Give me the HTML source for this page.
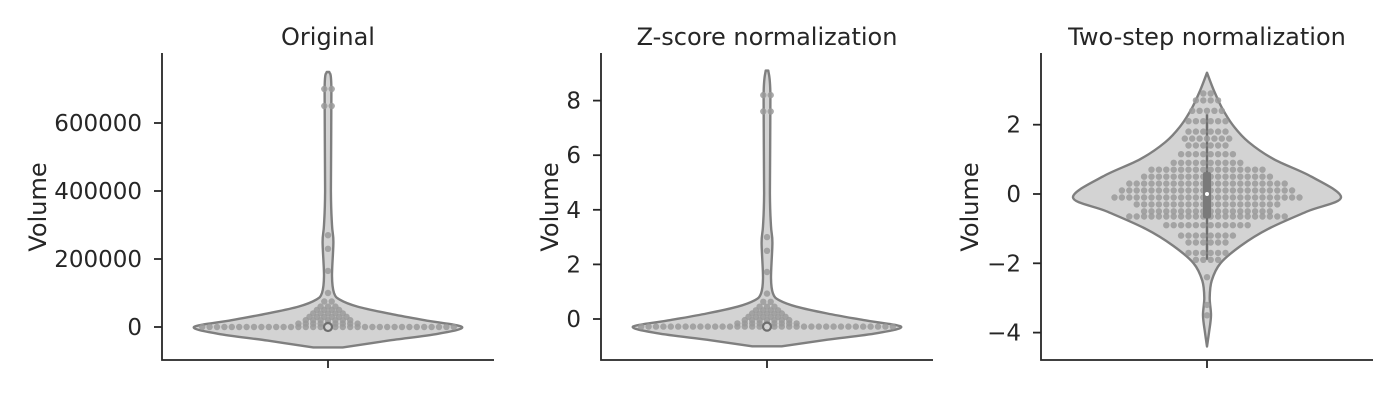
<!DOCTYPE html>
<html><head><meta charset="utf-8">
<style>
html,body{margin:0;padding:0;background:#fff;}
svg{display:block;font-family:"DejaVu Sans","Liberation Sans",sans-serif;}
</style></head>
<body>
<svg id="chart" width="1400" height="400" viewBox="0 0 1400 400"></svg>
<script>
// ---- Panel 1 data (Original) ----
const p1Ticks = [0, 200000, 400000, 600000];
const p1TickLabels = ["0", "200000", "400000", "600000"];
const p1ProfileVals = [750000, 700000, 400000, 300000, 250000, 150000, 100000, 80000, 60000, 40000, 20000, 0, -20000, -40000, -60000];
const p1ProfileW = [0.01, 0.025, 0.022, 0.03, 0.04, 0.03, 0.045, 0.09, 0.22, 0.45, 0.72, 1.0, 0.82, 0.45, 0.11];
const p1RowVals = [0, 10000, 20000, 30000, 40000, 50000, 60000, 75000, 100000, 165000, 230000, 270000, 650000, 700000];
const p1RowCounts = [35, 9, 7, 6, 5, 4, 3, 2, 1, 1, 1, 1, 2, 2];
// ---- Panel 2 data (Z-score) ----
const p2Ticks = [0, 2, 4, 6, 8];
const p2TickLabels = ["0", "2", "4", "6", "8"];
const p2ProfileVals = [9.1, 8.2, 4.6, 3.4, 2.8, 1.5, 0.93, 0.69, 0.45, 0.2, -0.04, -0.28, -0.52, -0.76, -1.0];
const p2ProfileW = [0.01, 0.025, 0.022, 0.03, 0.04, 0.03, 0.045, 0.09, 0.22, 0.45, 0.72, 1.0, 0.82, 0.45, 0.11];
const p2RowVals = [-0.28, -0.16, -0.04, 0.08, 0.2, 0.32, 0.45, 0.63, 0.93, 1.72, 2.5, 3.0, 7.6, 8.2];
const p2RowCounts = [35, 9, 7, 6, 5, 4, 3, 2, 1, 1, 1, 1, 2, 2];
// ---- Panel 3 data (Two-step) ----
const p3Ticks = [-4, -2, 0, 2];
const p3TickLabels = ["\u22124", "\u22122", "0", "2"];
const p3ProfileVals = [3.5, 3.0, 2.5, 2.0, 1.5, 1.0, 0.5, -0.1, -0.5, -1.0, -1.5, -2.0, -2.5, -3.0, -3.5, -4.0, -4.4];
const p3ProfileW = [0.0, 0.05, 0.11, 0.19, 0.31, 0.5, 0.78, 1.0, 0.75, 0.46, 0.25, 0.1, 0.035, 0.02, 0.03, 0.015, 0.0];
const p3RowVals = [2.9, 2.7, 2.4, 2.1, 1.8, 1.6, 1.4, 1.15, 0.9, 0.7, 0.5, 0.3, 0.1, -0.1, -0.3, -0.5, -0.65, -0.9, -1.2, -1.4, -1.7, -1.9, -2.4, -3.2, -3.5];
const p3RowCounts = [2, 4, 5, 6, 6, 7, 6, 8, 10, 16, 18, 22, 24, 26, 20, 18, 22, 12, 8, 6, 6, 4, 1, 1, 1];
const p3Box = [-0.7, 0.63];
const p3Whisk = [-1.9, 2.3];
const p3Median = 0;

const NS = "http://www.w3.org/2000/svg";
const svg = document.getElementById("chart");
function mk(tag, attrs, parent) {
  const e = document.createElementNS(NS, tag);
  for (const k in attrs) e.setAttribute(k, attrs[k]);
  (parent || svg).appendChild(e);
  return e;
}
function smooth(pts) {
  let d = "M" + pts[0][0].toFixed(1) + "," + pts[0][1].toFixed(1);
  for (let i = 0; i < pts.length - 1; i++) {
    const p0 = pts[Math.max(0, i-1)], p1 = pts[i], p2 = pts[i+1], p3 = pts[Math.min(pts.length-1, i+2)];
    const c1x = p1[0] + (p2[0]-p0[0])/6, c1y = p1[1] + (p2[1]-p0[1])/6;
    const c2x = p2[0] - (p3[0]-p1[0])/6, c2y = p2[1] - (p3[1]-p1[1])/6;
    d += `C${c1x.toFixed(1)},${c1y.toFixed(1)} ${c2x.toFixed(1)},${c2y.toFixed(1)} ${p2[0].toFixed(1)},${p2[1].toFixed(1)}`;
  }
  return d;
}

const panels = [
  {key:"original", title:"Original", left:162, right:494, y0:327, pxPerUnit:68/200000,
   ticks:p1Ticks, labels:p1TickLabels, pv:p1ProfileVals, pw:p1ProfileW, rv:p1RowVals, rc:p1RowCounts, maxW:134, box:null, ylx:38},
  {key:"zscore", title:"Z-score normalization", left:601, right:933, y0:319, pxPerUnit:27.3,
   ticks:p2Ticks, labels:p2TickLabels, pv:p2ProfileVals, pw:p2ProfileW, rv:p2RowVals, rc:p2RowCounts, maxW:134, box:null, ylx:550},
  {key:"twostep", title:"Two-step normalization", left:1041, right:1373, y0:194, pxPerUnit:34.65,
   ticks:p3Ticks, labels:p3TickLabels, pv:p3ProfileVals, pw:p3ProfileW, rv:p3RowVals, rc:p3RowCounts, maxW:134, box:true, ylx:970}
];

panels.forEach(p => {
  const g = mk("g", {});
  
  
  const cx = (p.left + p.right) / 2;
  const Y = v => p.y0 - v * p.pxPerUnit;
  const top = 53, bottom = 360;

  const t = mk("text", {x:cx, y:45, "text-anchor":"middle", "font-size":"24", fill:"#262626"}, g);
  t.textContent = p.title;
  
  

  const yl = mk("text", {x:0, y:0, "text-anchor":"middle", "font-size":"24", fill:"#262626",
    transform:`translate(${p.ylx + 8},207) rotate(-90)`}, g);
  yl.textContent = "Volume";
  
  

  const pts = p.pv.map((v, i) => [cx + p.pw[i]*p.maxW, Y(v)]);
  const ptsL = p.pv.map((v, i) => [cx - p.pw[i]*p.maxW, Y(v)]).reverse();
  const d = smooth(pts) + smooth(ptsL).replace(/^M/, "L") + "Z";
  const vio = mk("path", {d:d, fill:"#d3d3d3", stroke:"#7f7f7f", "stroke-width":"2.4", "stroke-linejoin":"round"}, g);
  
  

  if (p.box) {
    const wl = mk("line", {x1:cx, x2:cx, y1:Y(p3Whisk[1]), y2:Y(p3Whisk[0]), stroke:"#6e6e6e", "stroke-width":"2.5"}, g);
    
    
  }

  const pg = mk("g", {}, g);
  
  
  p.rv.forEach((v, i) => {
    const n = p.rc[i];
    for (let k = 0; k < n; k++) {
      const x = cx + (k - (n - 1) / 2) * 7.4;
      const c = mk("circle", {cx:x.toFixed(1), cy:Y(v).toFixed(1), r:"3.2", fill:"#9a9a9a", "fill-opacity":"0.85"}, pg);
      
      
    }
  });

  if (p.box) {
    const bx = mk("rect", {x:cx-4, y:Y(p3Box[1]), width:8, height:Y(p3Box[0])-Y(p3Box[1]), fill:"#7a7a7a", rx:2}, g);
    
    
    const md = mk("circle", {cx:cx, cy:Y(p3Median), r:2, fill:"#fff"}, g);
    
    
  } else {
    const md = mk("circle", {cx:cx, cy:Y(p.rv[0]), r:4, fill:"#d3d3d3", stroke:"#6e6e6e", "stroke-width":"2.2"}, g);
    
    
  }

  const ax = mk("path", {d:`M${p.left},${top}V${bottom}H${p.right}`, fill:"none", stroke:"#262626", "stroke-width":"1.8"}, g);
  
  
  const xt = mk("line", {x1:cx, x2:cx, y1:bottom, y2:bottom+8, stroke:"#262626", "stroke-width":"1.8"}, g);
  
  
  p.ticks.forEach((v, i) => {
    const y = Y(v);
    const tl = mk("line", {x1:p.left-8, x2:p.left, y1:y, y2:y, stroke:"#262626", "stroke-width":"1.8"}, g);
    
    
    const tx = mk("text", {x:p.left-20, y:y+8, "text-anchor":"end", "font-size":"23", fill:"#262626"}, g);
    tx.textContent = p.labels[i];
    
    
  });
});
</script>
</body></html>
